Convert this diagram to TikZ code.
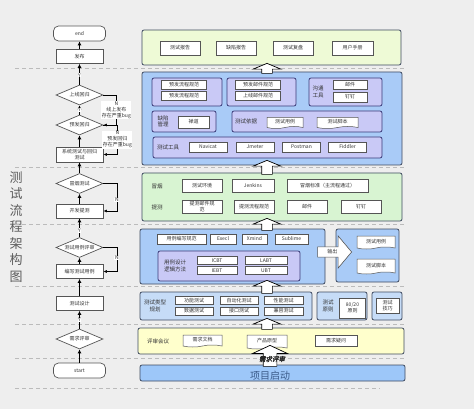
\documentclass[tikz,border=0pt]{standalone}
\usepackage{fontspec}
\setmainfont{Noto Sans CJK SC}
\newfontfamily\heavyslant{Noto Sans CJK SC}[FakeSlant=0.2,FakeBold=2]
\usetikzlibrary{arrows.meta,shapes.geometric,shapes.symbols,shapes.arrows}
\definecolor{bg}{HTML}{EEEEEE}
\definecolor{txt}{HTML}{333333}
\definecolor{edge}{HTML}{555555}
\definecolor{pedge}{HTML}{3E4A60}
\definecolor{dashc}{HTML}{BBBBBB}
\definecolor{secone}{HTML}{EEFAD6}
\definecolor{bluesec}{HTML}{A9CBF7}
\definecolor{lav}{HTML}{C9C9F6}
\definecolor{lavedge}{HTML}{3B3B78}
\definecolor{greensec}{HTML}{D8F4D2}
\definecolor{lightblue}{HTML}{C6DCF7}
\definecolor{yel}{HTML}{FFFFCC}
\definecolor{startblue}{HTML}{9DC7F9}
\definecolor{starttxt}{HTML}{3A5A88}
\newcommand{\tinyfs}{\fontsize{5}{6}\selectfont}
\newcommand{\lblfs}{\fontsize{5.5}{6.5}\selectfont}

\begin{document}
\begin{tikzpicture}[x=1pt,y=-1pt,
  flowbox/.style={draw=edge, fill=white, line width=0.7pt, minimum width=47pt, minimum height=14pt, inner sep=1pt, align=center, font=\tinyfs, text=txt},
  term/.style={flowbox, rounded corners=5pt, minimum width=52pt, minimum height=15pt},
  cond/.style={diamond, draw=edge, fill=white, line width=0.7pt, minimum width=47pt, minimum height=20pt, inner sep=0pt, aspect=2.2, font=\tinyfs, text=txt},
  flow/.style={-{Latex[length=4pt,width=4pt]}, line width=1.1pt, draw=black},
  back/.style={-{Latex[length=3.5pt,width=3pt]}, line width=0.6pt, draw=black},
  yes/.style={fill=white, inner sep=0.3pt, font=\tinyfs, text=txt},
  nlabel/.style={fill=white, inner sep=0.6pt, font=\tinyfs, align=center, text=txt},
  sep/.style={dash pattern=on 4pt off 3pt, draw=dashc, line width=0.6pt},
  panel/.style 2 args={draw=pedge, rounded corners=2pt, line width=0.8pt, minimum width=#1, minimum height=#2, inner sep=0pt},
  subpanel/.style 2 args={panel={#1}{#2}, fill=lav, draw=lavedge},
  item/.style 2 args={draw=edge, fill=white, line width=0.5pt, minimum width=#1, minimum height=#2, inner sep=0.5pt, font=\tinyfs, text=txt, align=center},
  doc/.style 2 args={item={#1}{#2}, tape, tape bend top=none, tape bend height=2pt},
  lbl/.style={font=\lblfs, text=txt, align=center},
  bigup/.style={single arrow, draw=black, fill=white, line width=0.7pt, rotate=90, anchor=tip, single arrow tip angle=135, inner xsep=0pt, inner ysep=5pt, single arrow head extend=8.5pt, minimum height=#1},
]
\fill[bg] (0,0) rectangle (474,409);
\useasboundingbox (0,0) rectangle (474,409);
% vertical title
\node[font=\fontsize{13}{16.5}\selectfont, text=txt!80, align=center] (title) at (16,227) {测\\试\\流\\程\\架\\构\\图};
% separators
\foreach \yy in {68,167,224,286,324,358}
  \draw[sep] (15,\yy) -- (406,\yy);
\draw[sep] (15,388) -- (380,388);

% flow on the left, bottom to top
\node[term] (finish) at (79.5,33.5) {end};
\node[flowbox] (publish) at (79.5,56.5) {发布};
\node[cond] (onlinerev) at (79.5,95) {上线回归};
\node[cond] (prerev) at (79.5,125) {预发回归};
\node[flowbox, minimum height=15pt] (systest) at (79.5,154.5) {系统测试与回归\\测试};
\node[cond] (smoke) at (79.5,183.5) {冒烟测试};
\node[flowbox] (submit) at (79.5,211) {开发提测};
\node[cond] (caserev) at (79.5,247.5) {测试用例评审};
\node[flowbox] (writecase) at (79.5,271.5) {编写测试用例};
\node[flowbox] (design) at (79.5,303.5) {测试设计};
\node[cond] (reqrev) at (79.5,339) {需求评审};
\node[term] (start) at (79.5,370.5) {start};
\draw[flow] (start) -- (reqrev);
\draw[flow] (reqrev) -- node[yes, pos=0.5]{Y} (design);
\draw[flow] (design) -- (writecase);
\draw[flow] (writecase) -- (caserev);
\draw[flow] (caserev) -- node[yes, pos=0.35]{Y} (submit);
\draw[flow] (submit) -- (smoke);
\draw[flow] (smoke) -- (systest);
\draw[flow] (systest) -- (prerev);
\draw[flow] (prerev) -- node[yes, pos=0.5]{Y} (onlinerev);
\draw[flow] (onlinerev) -- node[yes, pos=0.45]{Y} (publish);
\draw[flow] (publish) -- (finish);
\draw[back] (onlinerev.east) -- ++(13,0) |- node[nlabel, pos=0.25]{N\\线上发布\\存在严重bug} (prerev.east);
\draw[back] (prerev.east) -- ++(14,0) |- node[nlabel, pos=0.25]{N\\预发回归\\存在严重bug} (systest.east);
\draw[back] (smoke.east) -- ++(13.5,0) |- node[nlabel, pos=0.3]{N} (submit.east);
\draw[back] (caserev.east) -- ++(13.5,0) |- node[nlabel, pos=0.22]{N} (writecase.east);

% (1) delivery
\node[panel={259pt}{35pt}, fill=secone] (deliver) at (271.5,47.5) {};
\node[item={40pt}{14pt}] (report) at (180,48) {测试报告};
\node[item={40pt}{14pt}] (bugreport) at (236,48) {缺陷报告};
\node[item={40pt}{14pt}] (retro) at (293,48) {测试复盘};
\node[item={41pt}{14pt}] (manual) at (352.5,48) {用户手册};

% (2) release and regression
\node[panel={260pt}{93pt}, fill=bluesec] (regress) at (272,118.5) {};
\node[subpanel={70pt}{28pt}] (flowspec) at (187,92) {};
\node[item={45pt}{9pt}] (preflow) at (184,84.5) {预发流程规范};
\node[item={45pt}{8.5pt}] (onlineflow) at (184,96) {预发流程规范};
\node[subpanel={69pt}{28pt}] (mailspec) at (261.5,92) {};
\node[item={45pt}{9pt}] (premail) at (258,84.5) {预发邮件规范};
\node[item={45pt}{8.5pt}] (onlinemail) at (258,96) {上线邮件规范};
\node[subpanel={73pt}{28pt}] (comm) at (345.5,92) {};
\node[lbl] (commlbl) at (318,92) {沟通\\工具};
\node[item={34pt}{9pt}] (commmail) at (350,84.5) {邮件};
\node[item={34pt}{10pt}] (commding) at (350,97) {钉钉};
\node[subpanel={64pt}{21pt}] (defect) at (184,121.5) {};
\node[lbl] (defectlbl) at (163,121.5) {缺陷\\管理};
\node[item={31pt}{12pt}] (zentao) at (193.5,122) {禅道};
\node[subpanel={150pt}{21pt}] (basis) at (307,121.5) {};
\node[lbl] (basislbl) at (246,121.5) {测试依据};
\node[doc={36pt}{11pt}] (basiscase) at (285,122) {测试用例};
\node[doc={41pt}{11pt}] (basisscript) at (337.5,122) {测试脚本};
\node[subpanel={229pt}{21pt}] (tools) at (267.5,147.5) {};
\node[lbl] (toolslbl) at (168,147.5) {测试工具};
\node[item={38pt}{10pt}] (navicat) at (208,147) {Navicat};
\node[item={38pt}{10pt}] (jmeter) at (255,147) {Jmeter};
\node[item={38pt}{10pt}] (postman) at (301.5,147) {Postman};
\node[item={38pt}{10pt}] (fiddler) at (347.5,147) {Fiddler};

% (3) smoke and submit
\node[panel={260pt}{48pt}, fill=greensec] (smokesec) at (272,197) {};
\node[lbl] (smokelbl) at (157,186) {冒烟};
\node[item={40pt}{13pt}] (env) at (202,186) {测试环境};
\node[item={42pt}{13pt}] (jenkins) at (253,186) {Jenkins};
\node[item={81pt}{13pt}] (smokestd) at (327.5,186) {冒烟标准（主流程通过）};
\node[lbl] (submitlbl) at (157,207) {提测};
\node[item={40pt}{13pt}] (submitmail) at (202,206.5) {提测邮件规\\范};
\node[item={40pt}{13pt}] (submitflow) at (254,206.5) {提测流程规范};
\node[item={40pt}{13pt}] (submitmailer) at (307,206.5) {邮件};
\node[item={40pt}{13pt}] (submitding) at (361,206.5) {钉钉};

% (4) test cases
\node[panel={185pt}{55pt}, fill=bluesec] (casesec) at (232.5,256.5) {};
\node[item={49pt}{10pt}] (casespec) at (181.5,239) {用例编写规范};
\node[item={26pt}{10pt}] (excel) at (223,239) {Execl};
\node[item={25pt}{10pt}] (xmind) at (254.5,239) {Xmind};
\node[item={33pt}{10pt}] (sublime) at (291.5,239) {Sublime};
\node[subpanel={142pt}{30pt}] (method) at (229,266) {};
\node[lbl] (methodlbl) at (175,266) {用例设计\\逻辑方法};
\node[item={40pt}{8pt}] (icbt) at (217,260.5) {ICBT};
\node[item={42pt}{8pt}] (labt) at (266,260.5) {LABT};
\node[item={40pt}{8pt}] (iebt) at (217,270.5) {IEBT};
\node[item={42pt}{8pt}] (ubt) at (266,270.5) {UBT};
\node[panel={63pt}{53pt}, fill=bluesec] (output) at (367.5,255.5) {};
\node[doc={38pt}{13pt}] (outcase) at (376,241.5) {测试用例};
\node[doc={38pt}{15pt}] (outscript) at (376,265.5) {测试脚本};
\node[single arrow, draw=edge, fill=white, line width=0.6pt, anchor=tip, single arrow tip angle=100, single arrow head extend=11pt, inner xsep=1pt, inner ysep=2.5pt, minimum height=34pt, font=\tinyfs, text=txt] (outarrow) at (352,252) {输出};

% (5) test planning
\node[panel={172pt}{28pt}, fill=lightblue] (plan) at (226,306) {};
\node[lbl] (planlbl) at (155,306) {测试类型\\规划};
\node[item={38pt}{8pt}] (func) at (194,300.5) {功能测试};
\node[item={38pt}{8pt}] (auto) at (239,300.5) {自动化测试};
\node[item={39pt}{8pt}] (perf) at (283.5,300.5) {性能测试};
\node[item={38pt}{8pt}] (data) at (194,311) {数据测试};
\node[item={38pt}{8pt}] (api) at (239,311) {接口测试};
\node[item={39pt}{8pt}] (compat) at (283.5,311) {兼容测试};
\node[panel={50pt}{28pt}, fill=lightblue] (principle) at (342,306) {};
\node[lbl] (principlelbl) at (328,306) {测试\\原则};
\node[item={26pt}{20pt}] (pareto) at (352.5,308) {80/20\\原则};
\node[panel={30pt}{28pt}, fill=lightblue] (skill) at (387,306) {};
\node[item={23pt}{15pt}] (skillitem) at (387.5,306) {测试\\技巧};

% (6) requirement review
\node[panel={266pt}{26pt}, fill=yel] (meeting) at (271,341) {};
\node[lbl] (meetinglbl) at (158,341) {评审会议};
\node[doc={39pt}{12pt}] (reqdoc) at (202.5,340) {需求文档};
\node[doc={40pt}{14pt}] (proto) at (267,341) {产品原型};
\node[item={42pt}{11pt}] (reqquery) at (336,340.5) {需求疑问};

% (7) kick-off
\node[panel={265pt}{16pt}, fill=startblue] (kickoff) at (272.5,373) {};
\node[font=\fontsize{10}{12}\selectfont, text=starttxt] (kickofftxt) at (270,375.5) {项目启动};

% block arrows between stages
\node[bigup=10pt] (upa) at (267,63) {};
\node[bigup=14pt] (upb) at (267,160) {};
\node[bigup=12pt] (upc) at (267,218) {};
\node[bigup=13pt] (upd) at (267,280) {};
\node[bigup=11pt] (upe) at (267,318) {};
\node[bigup=21pt, inner ysep=6.5pt, single arrow head extend=10.5pt, single arrow tip angle=130] (upf) at (270,345) {};
\node[font=\heavyslant\fontsize{6.5}{7}\selectfont, text=black!85] (reqlbl) at (272,359) {需求评审};
\end{tikzpicture}
\end{document}
